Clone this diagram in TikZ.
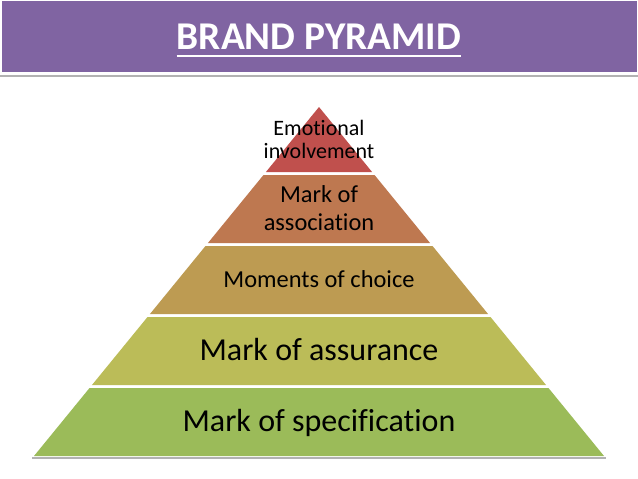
\documentclass[tikz,border=0pt]{standalone}
\usepackage{fontspec}
\setmainfont[Ligatures=NoCommon]{Carlito}
\usetikzlibrary{positioning}
\definecolor{bannerpurple}{RGB}{128,100,162}
\definecolor{layerred}{RGB}{192,80,77}
\definecolor{layerorange}{RGB}{190,120,80}
\definecolor{layertan}{RGB}{189,155,82}
\definecolor{layerolive}{RGB}{187,188,88}
\definecolor{layergreen}{RGB}{155,187,89}
\tikzset{layertext/.style = {text=black, align=center, anchor=base}}
\tikzset{shadowline/.style = {draw=black!30, line width=1.5pt}}
% edge of the pyramid: half width grows with y
\newcommand{\halfw}[1]{(#1-107)*0.8166}

\begin{document}
\begin{tikzpicture}[x=0.75pt, y=-0.75pt]

        \useasboundingbox [fill=white] (0,0) rectangle (638,478);

        % banner
        \fill [black!30] (0,3) rectangle (638,76.5);
        \fill [white] (0,0) rectangle (638,75);
        \fill [bannerpurple] (1.5,1.5) rectangle (636.5,72);
        \node [anchor=base, text=white, inner sep=0pt, font=\fontsize{29.5}{31}\selectfont\bfseries]
              (title) at (319,50) {BRAND PYRAMID};
        \draw [white, line width=2pt]
         ([yshift=-4.5pt]title.base west) -- ([yshift=-4.5pt]title.base east);

        % ground shadow
        \draw [shadowline] (32,458) -- (606,458);

        % layers
        \fill [layerred] (319,107) -- ({319+\halfw{172}},172) -- ({319-\halfw{172}},172) -- cycle;
        \foreach \ytop/\ybot/\col in {175/243/layerorange,
                                      246/314/layertan,
                                      317/385/layerolive,
                                      388/456/layergreen}
          \fill [\col] ({319-\halfw{\ytop}},\ytop) -- ({319+\halfw{\ytop}},\ytop)
                    -- ({319+\halfw{\ybot}},\ybot) -- ({319-\halfw{\ybot}},\ybot) -- cycle;

        % labels
        \node [layertext, font=\fontsize{16.5}{18}\selectfont] (emotional) at (319,135) {Emotional};
        \node [layertext, font=\fontsize{16.5}{18}\selectfont] (involvement) at (319,158) {involvement};
        \node [layertext, font=\fontsize{18.3}{20}\selectfont] (markof) at (319,202) {Mark of};
        \node [layertext, font=\fontsize{18.3}{20}\selectfont] (association) at (319,230) {association};
        \node [layertext, font=\fontsize{18.3}{20}\selectfont] (moments) at (319,287) {Moments of choice};
        \node [layertext, font=\fontsize{24}{26}\selectfont] (assurance) at (319,360) {Mark of assurance};
        \node [layertext, font=\fontsize{24}{26}\selectfont] (specification) at (319,431) {Mark of specification};

    \end{tikzpicture}
\end{document}
